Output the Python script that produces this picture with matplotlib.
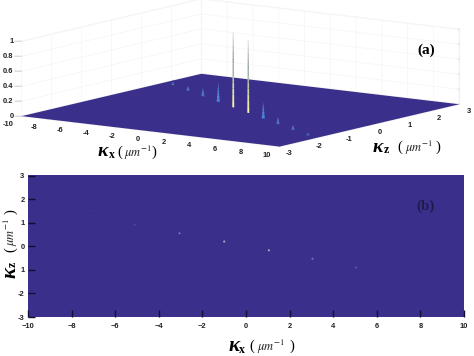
import numpy as np
import matplotlib
matplotlib.use("Agg")
import matplotlib.pyplot as plt
from matplotlib.colors import LinearSegmentedColormap
from mpl_toolkits.mplot3d import proj3d

W, H = 474, 356
BG = "#3a2f8a"
SERIF = "Liberation Serif"
SANS = "Liberation Sans"

# data
kx_ticks = [-10, -8, -6, -4, -2, 0, 2, 4, 6, 8, 10]
kz_ticks = [-3, -2, -1, 0, 1, 2, 3]
height_ticks = [0, 0.2, 0.4, 0.6, 0.8, 1]
height_labels = ["0", "0.2", "0.4", "0.6", "0.8", "1"]
kz_labels_b = ["-3", "-2", "1", "0", "1", "2", "3"]
peak_kx = [-9, -7, -5, -3, -1, 1, 3, 5, 7, 9]
peak_kz = [1.62, 1.26, 0.9, 0.55, 0.19, -0.17, -0.53, -0.9, -1.26, -1.62]
peak_h = [0.07, 0.09, 0.13, 0.25, 1.0, 0.97, 0.22, 0.12, 0.09, 0.06]
spot_kx = [-7, -5.1, -3.05, -1, 1.05, 3.05, 5.05]
spot_kz = [1.5, 0.9, 0.55, 0.2, -0.17, -0.53, -0.9]
spot_alpha = [0.05, 0.12, 0.35, 0.6, 0.6, 0.35, 0.2]
floor_kx = [-10, 10]
floor_kz = [-3, 3]

fig = plt.figure(figsize=(W / 100, H / 100), dpi=100, facecolor="white")

# ---------- panel (a)
ax = fig.add_axes([-0.02, 0.426, 1.04, 0.72], projection="3d", computed_zorder=False,
                  proj_type="ortho", facecolor="none")
ax.set_clip_on(False)
ax.view_init(elev=9.6, azim=-54.7)
ax.set_box_aspect((316, 311, 76), zoom=1.704)
ax.set_xlim(-10, 10); ax.set_ylim(-3, 3); ax.set_zlim(0, 1)
ax.set_xticks(kx_ticks); ax.set_yticks(kz_ticks); ax.set_zticks(height_ticks)
ax.set_xticklabels([]); ax.set_yticklabels([]); ax.set_zticklabels([])
ax.zaxis.set_ticks_position("upper")
for a in (ax.xaxis, ax.yaxis, ax.zaxis):
    a.set_pane_color((1, 1, 1, 1))
    a.pane.set_edgecolor("#f7f7f7")
    a.pane.set_clip_on(False)
    a.line.set_color("#f0f0f0"); a.line.set_linewidth(0.5)
    a.line.set_clip_on(False)
    a._axinfo["grid"].update(color="#f5f5f5", linewidth=0.5)
    a._axinfo["tick"].update(inward_factor=0.0, outward_factor=0.05)
    a._axinfo["tick"]["color"] = "#e0e0e0"
    for g in a.get_major_ticks():
        g.gridline.set_clip_on(False)
        g.tick1line.set_clip_on(False)
ax.tick_params(width=0.4, color="#e0e0e0")

fx, fz = np.meshgrid(floor_kx, floor_kz)
floor = ax.plot_surface(fx, fz, np.zeros_like(fx, dtype=float), color=BG, shade=False,
                        linewidth=0, antialiased=True, zorder=2)
floor.set_clip_on(False)

shaft = LinearSegmentedColormap.from_list(
    "shaft", ["#f4f4a8", "#d8e4a0", "#a8b8a8", "#9aa4aa", "#c0c4c8", "#f0f0f2"])
small = LinearSegmentedColormap.from_list("small", ["#4a8ee4", "#4f86d8", "#5f7ec8", BG])
levels = np.linspace(0, 1, 13)
for kx, kz, h in sorted(zip(peak_kx, peak_kz, peak_h), key=lambda p: p[0]):
    big = h > 0.5
    wx = 0.075 if big else 0.12
    for i in range(len(levels) - 1):
        z0, z1 = levels[i], levels[i + 1]
        w0 = wx * (1 - z0 * (0.45 if big else 0.95))
        w1 = wx * (1 - z1 * (0.45 if big else 0.95))
        xs = np.array([[kx - w0, kx + w0], [kx - w1, kx + w1]])
        zs = np.array([[kz, kz], [kz, kz]])
        hs = np.array([[z0, z0], [z1, z1]]) * h
        col = shaft(z0) if big else small(min(1.0, z0 * 0.8 + max(0.0, 0.25 - h) * 2.5))
        s = ax.plot_surface(xs, zs, hs, color=col, shade=False, linewidth=0, zorder=3)
        s.set_clip_on(False)

# axis labels of the 3-D box, placed from its data scale with a pixel offset
fig.canvas.draw()
PT = 0.72
def tick_text(x, y, z, text, dx, dy, ha="center"):
    X, Y, _ = proj3d.proj_transform(x, y, z, ax.get_proj())
    ax.annotate(text, xy=(X, Y), xytext=(dx * PT, -dy * PT), textcoords="offset points",
                annotation_clip=False, ha=ha, va="center", fontsize=5.4, family=SANS,
                weight="bold", color="#222222")

for value, text in zip(height_ticks, height_labels):
    X, Y, _ = proj3d.proj_transform(-10, -3, value, ax.get_proj())
    ax.annotate("", xy=(X, Y), xytext=(-5, 0), textcoords="offset points", annotation_clip=False,
                arrowprops=dict(arrowstyle="-", color="#c4c4c4", lw=0.6, shrinkA=0, shrinkB=0))
    tick_text(-10, -3, value, text, -8, 0, ha="right")
for value in kx_ticks:
    tick_text(value, -3, 0, str(value), -13, 8.5)
for value in kz_ticks:
    tick_text(10, value, 0, str(value), 10, 7)

def px(x, y):
    return x / W, 1 - y / H

def label(x0, y0, sub, dx_sub, dy_sub, dx_open, dx_mu, dx_close, kap=14):
    fig.text(*px(x0, y0), "κ", fontsize=kap, style="italic", weight="bold", va="center", ha="left", family=SERIF)
    fig.text(*px(x0 + dx_sub, y0 + dy_sub), sub, fontsize=8.5, weight="bold", va="center", ha="left", family=SERIF)
    fig.text(*px(x0 + dx_open, y0), "(", fontsize=10.5, va="center", ha="left", family=SERIF)
    fig.text(*px(x0 + dx_mu, y0 + 1), r"$\mathit{\mu m}^{-\mathit{1}}$", fontsize=9, va="center", ha="left",
             math_fontfamily="stix", color="#222222")
    fig.text(*px(x0 + dx_close, y0), ")", fontsize=10.5, va="center", ha="left", family=SERIF)

label(98, 152, "x", 11, 3, 19, 26, 54)
label(373, 147, "z", 11, 3, 24, 32, 62)
fig.text(*px(426, 50), "(a)", fontsize=11, weight="bold", ha="center", va="center", family=SERIF)

# ---------- panel (b)
axb = fig.add_axes([28 / W, 1 - 317 / H, (464 - 28) / W, (317 - 175.5) / H], facecolor=BG)
axb.set_xlim(-10, 10); axb.set_ylim(-3, 3)
axb.scatter(spot_kx, spot_kz, s=2.2, c="white", alpha=spot_alpha, linewidths=0)
axb.set_xticks(kx_ticks); axb.set_yticks(kz_ticks); axb.set_yticklabels(kz_labels_b)
axb.tick_params(direction="in", length=5, width=1.0, color="#101030", labelsize=5.4, pad=2.5,
                labelcolor="#222222")
axb.tick_params(axis="x", pad=4.5)
for lab in axb.get_xticklabels() + axb.get_yticklabels():
    lab.set_fontfamily(SANS); lab.set_fontweight("bold")
for s in axb.spines.values():
    s.set_visible(False)

label(229, 346, "x", 10, 4, 20, 28, 60, kap=15)

rot = dict(rotation=90, va="center", ha="center", family=SERIF)
fig.text(*px(11, 273), "κ", fontsize=15, style="italic", weight="bold", **rot)
fig.text(*px(13, 264), "z", fontsize=8.5, weight="bold", **rot)
fig.text(*px(11, 250), "(", fontsize=10.5, **rot)
fig.text(*px(11, 232), r"$\mathit{\mu m}^{-\mathit{1}}$", fontsize=9, rotation=90, va="center", ha="center",
         math_fontfamily="stix", color="#222222")
fig.text(*px(11, 212), ")", fontsize=10.5, **rot)
fig.text(*px(426, 206), "(b)", fontsize=11, weight="bold", ha="center", va="center", family=SERIF, color="#1c1c50")

fig.savefig("out.png", dpi=100)
